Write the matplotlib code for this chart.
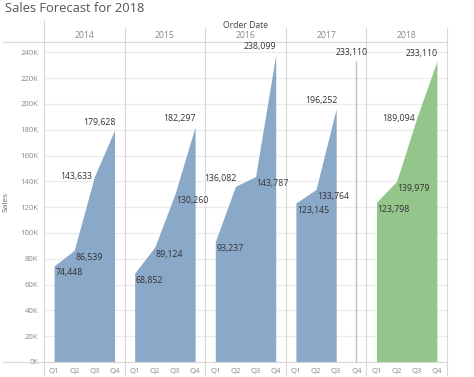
import matplotlib
matplotlib.use('Agg')
import matplotlib.pyplot as plt
from matplotlib.lines import Line2D

plt.rcParams['font.family'] = ['Open Sans', 'DejaVu Sans']

# data
years = ['2014', '2015', '2016', '2017', '2018']
quarters = ['Q1', 'Q2', 'Q3', 'Q4']
sales_2014 = [74448, 86539, 143633, 179628]
sales_2015 = [68852, 89124, 130260, 182297]
sales_2016 = [93237, 136082, 143787, 238099]
sales_2017 = [123145, 133764, 196252, 233110]
sales_2018 = [123798, 139979, 189094, 233110]   # forecast
y_ticks = list(range(0, 240001, 20000))

all_sales = [sales_2014, sales_2015, sales_2016, sales_2017, sales_2018]

# where each value label sits relative to its point
label_pos = [
    ['below', 'below', 'left', 'above'],
    ['below', 'below', 'below', 'above'],
    ['below', 'above', 'below', 'above'],
    ['below', 'below', 'above', 'top'],
    ['below', 'below', 'left', 'above'],
]

BLUE = '#8aa8c8'
GREEN = '#94c58b'
GRID = '#ebebeb'
SEP = '#d8d8d8'

W, H = 474, 377
fig = plt.figure(figsize=(W / 100, H / 100), dpi=100)
axes = fig.subplots(1, 5, sharey=True, gridspec_kw=dict(wspace=0))
fig.subplots_adjust(left=44 / W, right=447 / W, bottom=15 / H, top=335 / H)

offsets = {
    'below': ((1, -7), 'left', 'center'),
    'above': ((1, 8), 'right', 'center'),
    'left': ((-2, 0), 'right', 'center'),
    'top': ((-5, 9), 'center', 'center'),
}

x = list(range(len(quarters)))
labels = []
for i, ax in enumerate(axes):
    ax.patch.set_visible(False)
    vals = all_sales[i]
    if years[i] == '2018':
        ax.fill_between(x, vals, color=GREEN, lw=0, zorder=2)
    elif years[i] == '2017':
        # last quarter only shows as a thin line
        ax.fill_between(x[:3], vals[:3], color=BLUE, lw=0, zorder=2)
        ax.vlines(x[3], 0, vals[3], color='#b5c0cc', lw=1, zorder=2)
    else:
        ax.fill_between(x, vals, color=BLUE, lw=0, zorder=2)

    ax.set_xlim(-0.5, 3.5)
    ax.set_ylim(0, 248000)
    ax.set_xticks(x)
    ax.set_xticklabels(quarters)
    ax.set_yticks(y_ticks)
    ax.grid(axis='y', color=GRID, lw=0.8, zorder=0)
    ax.tick_params(length=0, labelsize=5.6, colors='#8a8a8a', pad=4)
    for s in ax.spines.values():
        s.set_visible(False)

fig.canvas.draw()
# value labels as figure texts so neighbouring panels don't hide them
for i, ax in enumerate(axes):
    for j, v in enumerate(all_sales[i]):
        (dx, dy), ha, va = offsets[label_pos[i][j]]
        px, py = ax.transData.transform((x[j], v))
        fig.text((px + dx) / W, (py + dy) / H, f'{v:,}', ha=ha, va=va,
                 fontsize=6.3, color='#333333', zorder=5)

axes[0].set_yticklabels([f'{t // 1000}K' for t in y_ticks])
axes[0].set_ylabel('Sales', fontsize=6, color='#666666', labelpad=8)

# header with year names
for i, ax in enumerate(axes):
    pos = ax.get_position()
    fig.text((pos.x0 + pos.x1) / 2, 1 - 36 / H, years[i], ha='center', va='center',
             fontsize=6.2, color='#8a8a8a')
fig.text((44 + 447) / 2 / W, 1 - 26 / H, 'Order Date', ha='center', va='center',
         fontsize=6.2, color='#444444')
fig.text(5 / W, 1 - 9 / H, 'Sales Forecast for 2018', ha='left', va='center',
         fontsize=9.3, color='#555555')

# separators and frame lines
for i in range(6):
    xf = (44 + i * (447 - 44) / 5) / W
    y_top = 1 - (20 if i == 0 else 28) / H
    fig.add_artist(Line2D([xf, xf], [1 - 375 / H, y_top], color=SEP, lw=0.8))
for yp in (42, 362):
    fig.add_artist(Line2D([3 / W, 447 / W], [1 - yp / H, 1 - yp / H], color=SEP, lw=0.8))

fig.savefig('out.png', dpi=100)
